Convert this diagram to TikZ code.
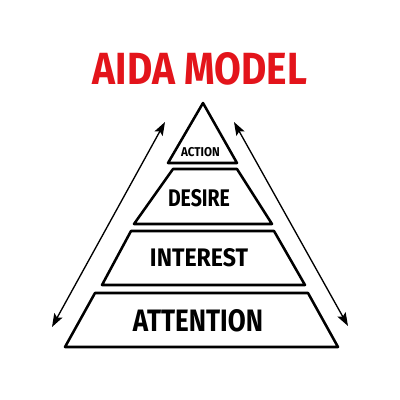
\documentclass[tikz,border=0pt]{standalone}
\usepackage{fontspec}
\setmainfont{Fira Sans}
\usetikzlibrary{arrows.meta}
\definecolor{titlered}{HTML}{E3141B}
\tikzset{
  band/.style={draw=black, line width=1.9pt, line join=round, fill=white},
  lbl/.style={inner sep=0pt, text=black},
  dbl/.style={draw=black, line width=1pt, {Stealth[length=10pt,width=7pt,inset=2pt]}-{Stealth[length=10pt,width=7pt,inset=2pt]}}
}
\newcommand{\fitbox}[3]{\resizebox{#1}{#2}{\bfseries #3}}
\begin{document}
\begin{tikzpicture}[x=0.75pt,y=-0.75pt]
\useasboundingbox (0,0) rectangle (400,400);
\fill[white] (0,0) rectangle (400,400);
% title
\node[lbl, text=titlered] (title) at (200,69) {\fitbox{160.5pt}{24pt}{AIDA MODEL}};
% arrow end points
\coordinate (la1) at (52,327);
\coordinate (la2) at (165,122);
\coordinate (ra1) at (234,122);
\coordinate (ra2) at (348,326);
\draw[dbl] (la1) -- (la2);
\draw[dbl] (ra1) -- (ra2);
% pyramid bands
\draw[band] (203,103) -- (237,163) -- (168,163) -- cycle;
\draw[band] (173,169) -- (237,169) -- (272,224) -- (134,224) -- cycle;
\draw[band] (131,231) -- (274,231) -- (305,285) -- (102,285) -- cycle;
\draw[band] (95,293) -- (308,293) -- (338,347) -- (65,347) -- cycle;
% labels
\node[lbl] (action) at (200.5,152.5) {\fitbox{29pt}{6.8pt}{ACTION}};
\node[lbl] (desire) at (199,198.5) {\fitbox{46.5pt}{12.8pt}{DESIRE}};
\node[lbl] (interest) at (199,258) {\fitbox{73.5pt}{13.5pt}{INTEREST}};
\node[lbl] (attention) at (198,321) {\fitbox{97.5pt}{16.5pt}{ATTENTION}};
\end{tikzpicture}
\end{document}
